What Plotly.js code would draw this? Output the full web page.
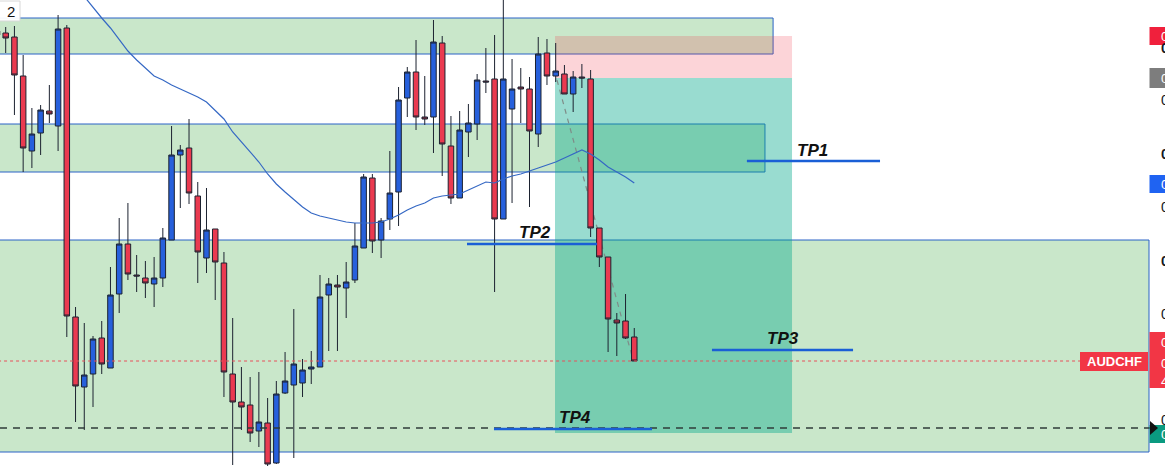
<!DOCTYPE html>
<html><head><meta charset="utf-8">
<script src="https://cdn.plot.ly/plotly-3.0.1.min.js"></script>
<style>html,body{margin:0;padding:0;background:#fff;overflow:hidden}#chart{width:1165px;height:466px}</style>
</head><body><div id="chart"></div>
<script>
// ---- AUDCHF candles (bar index -1 .. 72) ----
const openP = [0.57938,0.57934,0.57926,0.57848,0.57698,0.57734,0.57778,0.57748,0.57944,0.57366,
0.57226,0.57252,0.57324,0.57264,0.57412,0.57512,0.57450,0.57444,0.57432,0.57444,
0.57520,0.57690,0.57704,0.57608,0.57484,0.57542,0.57474,0.57252,0.57196,0.57190,
0.57138,0.57154,0.57074,0.57214,0.57230,0.57234,0.57262,0.57266,0.57410,0.57430,
0.57424,0.57440,0.57504,0.57644,0.57520,0.57562,0.57616,0.57804,0.57856,0.57766,
0.57766,0.57914,0.57708,0.57604,0.57736,0.57752,0.57838,0.57842,0.57562,0.57782,
0.57826,0.57822,0.57732,0.57894,0.57848,0.57852,0.57812,0.57846,0.57842,0.57544,
0.57486,0.57360,0.57358,0.57326];
const highP = [0.57944,0.57946,0.57948,0.57890,0.57784,0.57790,0.57830,0.57970,0.57950,0.57386,
0.57354,0.57328,0.57358,0.57466,0.57564,0.57594,0.57490,0.57478,0.57486,0.57544,
0.57748,0.57710,0.57762,0.57636,0.57624,0.57542,0.57496,0.57364,0.57266,0.57246,
0.57256,0.57204,0.57238,0.57296,0.57382,0.57282,0.57298,0.57450,0.57444,0.57450,
0.57476,0.57554,0.57652,0.57652,0.57564,0.57698,0.57826,0.57866,0.57920,0.57848,
0.57960,0.57928,0.57768,0.57778,0.57792,0.57852,0.57904,0.57930,0.58020,0.57882,
0.57864,0.57846,0.57926,0.57922,0.57914,0.57870,0.57858,0.57872,0.57860,0.57544,
0.57486,0.57374,0.57412,0.57344];
const lowP = [0.57920,0.57894,0.57770,0.57656,0.57664,0.57690,0.57754,0.57698,0.57326,0.57156,
0.57140,0.57186,0.57252,0.57264,0.57374,0.57440,0.57416,0.57404,0.57386,0.57426,
0.57520,0.57584,0.57592,0.57434,0.57454,0.57400,0.57206,0.57070,0.57140,0.57116,
0.57106,0.57068,0.57072,0.57212,0.57084,0.57206,0.57232,0.57266,0.57298,0.57298,
0.57364,0.57434,0.57504,0.57494,0.57484,0.57540,0.57548,0.57766,0.57740,0.57750,
0.57694,0.57648,0.57592,0.57604,0.57686,0.57720,0.57814,0.57416,0.57562,0.57594,
0.57754,0.57586,0.57706,0.57830,0.57836,0.57812,0.57776,0.57824,0.57526,0.57466,
0.57296,0.57288,0.57322,0.57278];
const closeP = [0.57930,0.57924,0.57850,0.57704,0.57732,0.57780,0.57772,0.57942,0.57368,0.57228,
0.57250,0.57322,0.57272,0.57410,0.57512,0.57452,0.57448,0.57434,0.57444,0.57524,
0.57690,0.57700,0.57614,0.57496,0.57540,0.57476,0.57256,0.57196,0.57186,0.57134,
0.57156,0.57072,0.57212,0.57238,0.57272,0.57260,0.57266,0.57406,0.57432,0.57426,
0.57436,0.57508,0.57646,0.57518,0.57558,0.57614,0.57800,0.57856,0.57766,0.57762,
0.57916,0.57712,0.57604,0.57740,0.57754,0.57840,0.57836,0.57562,0.57842,0.57822,
0.57822,0.57738,0.57892,0.57848,0.57858,0.57812,0.57846,0.57844,0.57544,0.57486,
0.57362,0.57354,0.57324,0.57278];
const firstBar = -1;

// moving average, bars 7 .. 72
const maStart = 7;
const maVals = [0.58050,0.58028,0.58008,0.57986,0.57964,0.57944,0.57920,0.57898,0.57880,0.57864,
0.57848,0.57840,0.57830,0.57822,0.57814,0.57806,0.57796,0.57780,0.57762,0.57736,
0.57716,0.57696,0.57676,0.57652,0.57632,0.57616,0.57600,0.57586,0.57574,0.57568,
0.57564,0.57560,0.57556,0.57554,0.57554,0.57554,0.57556,0.57562,0.57570,0.57580,
0.57588,0.57594,0.57604,0.57608,0.57610,0.57612,0.57620,0.57628,0.57636,0.57634,
0.57642,0.57648,0.57652,0.57658,0.57664,0.57670,0.57676,0.57684,0.57692,0.57700,
0.57692,0.57680,0.57666,0.57656,0.57646,0.57634];

// drawn zones (price levels) and position tool
const zoneTop = [0.57964, 0.57892], zoneTopEnd = 87.9;
const zoneMid = [0.57752, 0.57656], zoneMidEnd = 86.97;
const zoneLow = [0.57520, 0.57096];
const posX = [62.92, 90.07];
const stopZone = [0.57928, 0.57844];
const targetZone = [0.57844, 0.57134];
const entryLine = [[63.15, 0.57840], [71.86, 0.57280]];
const tpNames = ['TP1', 'TP2', 'TP3', 'TP4'];
const tpLevels = [0.57678, 0.57512, 0.57300, 0.57142];
const tpX = [[84.9, 100.15], [52.84, 67.73], [80.9, 97.06], [55.93, 74.03]];
const tpLabelPos = [[92.47, 0.57700], [60.6, 0.57536], [89.04, 0.57324], [65.2, 0.57166]];
const lastPrice = 0.57278, lastPriceEnd = 123.06;
const dashedLevel = 0.57144;
const symbol = 'AUDCHF';

// right price scale (cut off by the window)
const axisLabels = ['0.57905', '0.57800', '0.57693', '0.57586', '0.57479', '0.57373', '0.57160'];
const axisLabelPrices = [0.57905, 0.57800, 0.57693, 0.57586, 0.57479, 0.57373, 0.57160];
const axisLabelBold = [true, false, true, false, true, false, false];
const tagColors = ['#f0203c', '#7d7d7d', '#1f63f2', '#f23645', '#0a9a80'];
const tagRanges = [[0.57946, 0.57910], [0.57864, 0.57824], [0.57650, 0.57614], [0.57336, 0.57224], [0.57150, 0.57114]];
const tagTexts = [['0.57928', 0.57928], ['0.57844', 0.57844], ['0.57632', 0.57632], ['0.57316', 0.57316], ['0.57274', 0.57274], ['42:15', 0.57238], ['0.57132', 0.57132]];

const xIdx = openP.map((_, i) => i + firstBar);
const maX = maVals.map((_, i) => i + maStart);

const PW = 1149; // plot width px
const px = v => v / PW;

const shapes = [];
const green = 'rgba(76,175,80,0.30)', zoneLine = '#2b63c6';
shapes.push({type:'rect', layer:'below', xref:'x', yref:'y', x0:-5, x1:zoneTopEnd, y0:zoneTop[0], y1:zoneTop[1], fillcolor:green, line:{color:zoneLine, width:1}});
shapes.push({type:'rect', layer:'below', xref:'x', yref:'y', x0:-5, x1:zoneMidEnd, y0:zoneMid[0], y1:zoneMid[1], fillcolor:green, line:{color:zoneLine, width:1}});
shapes.push({type:'rect', layer:'below', xref:'paper', yref:'y', x0:-0.01, x1:1, y0:zoneLow[0], y1:zoneLow[1], fillcolor:green, line:{color:zoneLine, width:1}});
shapes.push({type:'rect', layer:'below', xref:'x', yref:'y', x0:posX[0], x1:posX[1], y0:stopZone[0], y1:stopZone[1], fillcolor:'rgba(242,54,69,0.21)', line:{width:0}});
shapes.push({type:'rect', layer:'below', xref:'x', yref:'y', x0:posX[0], x1:posX[1], y0:targetZone[0], y1:targetZone[1], fillcolor:'rgba(0,168,138,0.40)', line:{width:0}});
shapes.push({type:'line', layer:'below', xref:'x', yref:'y', x0:entryLine[0][0], y0:entryLine[0][1], x1:entryLine[1][0], y1:entryLine[1][1], line:{color:'#7f8c88', width:1.2, dash:'5px,5px'}});
// last price dotted line and dashed level
shapes.push({type:'line', layer:'above', xref:'x', yref:'y', x0:-5, x1:lastPriceEnd, y0:lastPrice, y1:lastPrice, line:{color:'#e8505b', width:1, dash:'dot'}});
shapes.push({type:'line', layer:'above', xref:'paper', yref:'y', x0:0, x1:px(1151), y0:dashedLevel, y1:dashedLevel, line:{color:'#2f3d3a', width:1.6, dash:'7px,6px'}});
// TP lines
tpLevels.forEach((lv, i) => shapes.push({type:'line', layer:'above', xref:'x', yref:'y', x0:tpX[i][0], x1:tpX[i][1], y0:lv, y1:lv, line:{color:'#1a5fd6', width:2.5}}));
// right-scale tags
tagRanges.forEach((r, i) => shapes.push({type:'rect', layer:'above', xref:'paper', yref:'y', x0:px(1149.5), x1:px(1175), y0:r[0], y1:r[1], fillcolor:tagColors[i], line:{width:0}}));
// symbol tag
shapes.push({type:'rect', layer:'above', xref:'paper', yref:'y', x0:px(1080), x1:px(1148), y0:0.57296, y1:0.57258, fillcolor:'#f23645', line:{width:0}});
// arrow on dashed level
shapes.push({type:'path', layer:'above', xref:'paper', yref:'paper', path:`M${px(1150)},${1-421/466} L${px(1158)},${1-428/466} L${px(1150)},${1-435/466} Z`, fillcolor:'#111', line:{width:0}});
// "2" box
shapes.push({type:'rect', layer:'above', xref:'paper', yref:'paper', x0:px(-2), x1:px(20), y0:1-21/466, y1:1-1/466, fillcolor:'rgba(255,255,255,0.95)', line:{color:'#d8d8d8', width:1}});

const annotations = [];
tpNames.forEach((t, i) => annotations.push({xref:'x', yref:'y', x:tpLabelPos[i][0], y:tpLabelPos[i][1], xanchor:'center', text:'<b><i>' + t + '</i></b>', showarrow:false, font:{family:'Liberation Sans, Arial, sans-serif', size:17, color:'#111'}}));
axisLabels.forEach((t, i) => annotations.push({xref:'paper', yref:'y', x:px(1158.5), y:axisLabelPrices[i], xanchor:'left', text: axisLabelBold[i] ? '<b>' + t + '</b>' : t, showarrow:false, font:{family:'Liberation Sans, Arial, sans-serif', size:14, color:'#131722'}}));
tagTexts.forEach(t => annotations.push({xref:'paper', yref:'y', x:px(1158.5), y:t[1], xanchor:'left', text:t[0], showarrow:false, font:{family:'Liberation Sans, Arial, sans-serif', size:13, color:'#fff'}}));
annotations.push({xref:'paper', yref:'y', x:px(1114), y:lastPrice, xanchor:'center', text:'<b>' + symbol + '</b>', showarrow:false, font:{family:'Liberation Sans, Arial, sans-serif', size:13, color:'#fff'}});
annotations.push({xref:'paper', yref:'paper', x:px(10.5), y:1-12/466, xanchor:'center', yanchor:'middle', text:'2', showarrow:false, font:{family:'Liberation Sans, Arial, sans-serif', size:15, color:'#111'}});

const traces = [
  {type:'scatter', mode:'lines', x:maX, y:maVals, line:{color:'#3568c4', width:1.2}, hoverinfo:'skip'},
  {type:'candlestick', x:xIdx, open:openP, high:highP, low:lowP, close:closeP, whiskerwidth:0,
   increasing:{fillcolor:'#2760dc', line:{color:'#1c2230', width:1}},
   decreasing:{fillcolor:'#ea3a50', line:{color:'#1c2230', width:1}}, hoverinfo:'skip'}
];

const layout = {
  width:1165, height:466, margin:{l:0, r:16, t:0, b:0, pad:0},
  paper_bgcolor:'#ffffff', plot_bgcolor:'#ffffff', showlegend:false, hovermode:false,
  boxgap:0.3, boxgroupgap:0.1,
  xaxis:{range:[-0.653, 130.96], showgrid:false, zeroline:false, showticklabels:false, ticks:'', showline:false, rangeslider:{visible:false}},
  yaxis:{range:[0.57068, 0.58000], showgrid:false, zeroline:false, showticklabels:false, ticks:'', showline:false},
  shapes:shapes, annotations:annotations
};
Plotly.newPlot('chart', traces, layout, {staticPlot:true, displayModeBar:false});
</script></body></html>
